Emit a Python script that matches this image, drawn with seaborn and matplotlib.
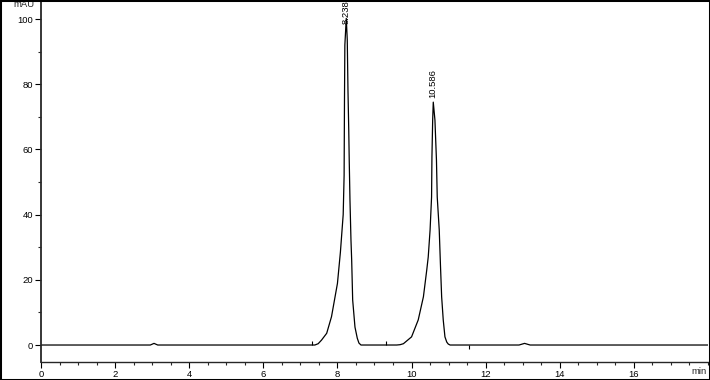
import numpy as np
import pandas as pd
import matplotlib
matplotlib.use("Agg")
import matplotlib.pyplot as plt
from matplotlib.patches import Rectangle
from matplotlib.ticker import MultipleLocator
import seaborn as sns

# ---- data (time in min, signal in mAU) ----
time_min = [0.0, 2.95, 3.05, 3.15,
            7.39, 7.48, 7.57, 7.71, 7.84, 8.00, 8.08, 8.155, 8.18, 8.19, 8.20, 8.238,
            8.265, 8.284, 8.305, 8.318, 8.338, 8.365, 8.384, 8.411, 8.473, 8.535, 8.58, 8.635,
            9.60, 9.69, 9.78, 10.00, 10.18, 10.32, 10.41, 10.45, 10.50, 10.54, 10.55, 10.57, 10.586,
            10.631, 10.672, 10.693, 10.747, 10.780, 10.812, 10.855, 10.901, 10.95, 10.99, 11.04,
            12.90, 13.05, 13.20, 18.0]
signal_mau = [0.0, 0.0, 0.5, 0.0,
              0.0, 0.4, 1.5, 3.6, 8.7, 18.9, 28.5, 40.0, 52.0, 75.2, 92.0, 100.2,
              93.6, 78.2, 66.0, 56.7, 44.5, 32.2, 26.1, 13.8, 5.5, 2.1, 0.6, 0.0,
              0.0, 0.1, 0.4, 2.5, 7.7, 14.8, 23.0, 27.0, 35.3, 45.4, 57.7, 69.0, 74.5,
              69.0, 56.7, 45.4, 35.3, 24.5, 14.8, 7.7, 2.5, 0.9, 0.3, 0.0,
              0.0, 0.5, 0.0, 0.0]
peak_rt = [8.238, 10.586]
peak_height = [100.2, 74.5]
peak_labels = ["8.238", "10.586"]
event_times = [7.32, 9.31, 11.56]
event_dir = [1, 1, -1]

x_ticks = [0, 2, 4, 6, 8, 10, 12, 14, 16]
y_ticks = [0, 20, 40, 60, 80, 100]

df = pd.DataFrame({"t": time_min, "mAU": signal_mau})

sns.set_style("ticks")
narrow = ["Liberation Sans Narrow", "Liberation Sans", "DejaVu Sans"]
plt.rcParams["font.family"] = narrow

W, H = 710, 380
fig = plt.figure(figsize=(W / 100, H / 100), dpi=100)
ax = fig.add_axes([41 / W, 18 / H, (708 - 41) / W, 362 / H])

sns.lineplot(data=df, x="t", y="mAU", ax=ax, color="black", lw=0.9,
             sort=False, estimator=None)

for t, d in zip(event_times, event_dir):
    ax.vlines(t, 0, 1.1 * d, color="black", lw=0.8)

label_y = np.minimum(np.array(peak_height) + 1.2, 98.4)
for rt, ly, lab in zip(peak_rt, label_y, peak_labels):
    ax.text(rt, ly, lab, rotation=90, ha="center", va="bottom",
            fontsize=6.8, family=["Liberation Sans", "DejaVu Sans"], color="black")

ax.set_xlim(0, 18)
ax.set_ylim(-5.21, 105.83)
ax.set_xticks(x_ticks)
ax.set_yticks(y_ticks)
ax.xaxis.set_minor_locator(MultipleLocator(0.5))
ax.yaxis.set_minor_locator(MultipleLocator(10))
ax.tick_params(which="major", length=4, width=0.8, labelsize=6.8, pad=1.5, colors="black")
ax.tick_params(which="minor", length=2, width=0.8)
ax.set_xlabel("")
ax.set_ylabel("")
for s in ["top", "right"]:
    ax.spines[s].set_visible(False)
ax.spines["left"].set_linewidth(1.3)
ax.spines["bottom"].set_linewidth(1.0)

ax.annotate("mAU", xy=(0, 104.3), xycoords=("axes fraction", "data"),
            xytext=(-5, 0), textcoords="offset points", ha="right", va="center",
            fontsize=6.8)
ax.annotate("min", xy=(1, 0), xycoords="axes fraction",
            xytext=(-1, -3.5), textcoords="offset points", ha="right", va="top",
            fontsize=6.8)

fig.patches.append(Rectangle((0, 0), 1, 1, transform=fig.transFigure, fill=False,
                             ec="black", lw=2.2, zorder=10))

fig.savefig("out.png", dpi=100)
